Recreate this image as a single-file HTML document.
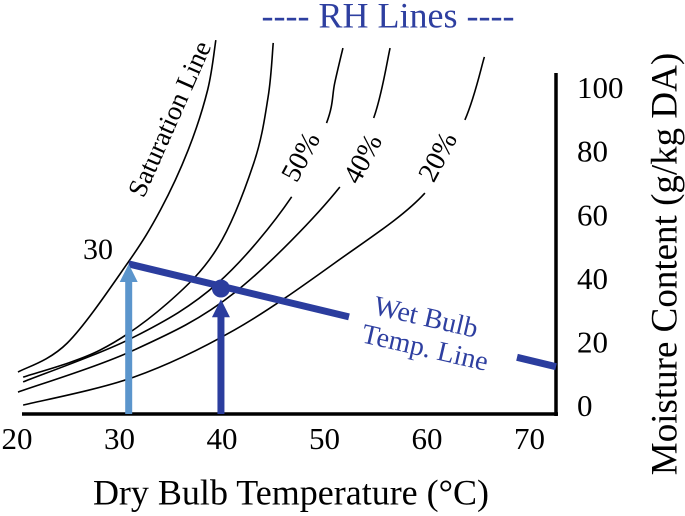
<!DOCTYPE html>
<html><head><meta charset="utf-8"><style>
html,body{margin:0;padding:0;background:#fff;}
svg{display:block;font-family:"Liberation Serif",serif;}
</style></head><body>
<svg id="chart" width="685" height="516" viewBox="0 0 685 516">
<g id="curves"></g>
<g id="axes"></g>
<g id="marks"></g>
</svg>
<script>
const xTicks=[20,30,40,50,60,70];
const yTicks=[0,20,40,60,80,100];
const satT=[20,24.8,30.7,33.9,36.6,38.5,39.3];
const satM=[11.3,20.4,45.6,62.3,81.1,100,115.7];
const rh70T=[20.5,28.0,34.6,39.5,43.0,44.4,44.9];
const rh70M=[9.7,18.2,33.0,50.6,77.0,97.8,114.8];
const rh50T=[20.5,31.3,39.5,46.7,50.1,50.9,51.7];
const rh50M=[8.2,22.3,39.3,66.4,89.6,102.2,113.2];
const rh40T=[20,31.3,41.1,51.4,54.7,56.3];
const rh40M=[5.0,18.2,36.2,69.5,91.2,113.2];
const rh20T=[20.5,31.3,41.1,50.9,59.7,63.6,65.5];
const rh20M=[0.9,9.7,24.5,45.6,67.6,90.6,110.4];
const wetT=[30.8,73];
const wetM=[45.3,12.6];
const satPointT=[30.8];
const dryPointT=[39.8];
const dryPointM=[38.2];

const NS="http://www.w3.org/2000/svg";
function X(t){return 18+(t-20)*10.25;}
function Y(m){return 408-m*3.18;}
function el(tag,attrs,parent,text){const e=document.createElementNS(NS,tag);for(const k in attrs)e.setAttribute(k,attrs[k]);if(text!==undefined)e.textContent=text;parent.appendChild(e);return e;}
function spline(ts,ms,gap){const p=ts.map((t,i)=>[X(t),Y(ms[i])]);let d="";for(let i=0;i<p.length-1;i++){if(i===gap)continue;const p0=p[Math.max(0,i-1)],p1=p[i],p2=p[i+1],p3=p[Math.min(p.length-1,i+2)];const c1=[p1[0]+(p2[0]-p0[0])/6,p1[1]+(p2[1]-p0[1])/6];const c2=[p2[0]-(p3[0]-p1[0])/6,p2[1]-(p3[1]-p1[1])/6];d+=" M"+p1+" C"+c1+" "+c2+" "+p2;}return d;}
const curves=document.getElementById('curves');
const axes=document.getElementById('axes');
const marks=document.getElementById('marks');
const series=[[satT,satM,'saturation-line',-1],[rh70T,rh70M,'rh-curve-70',-1],[rh50T,rh50M,'rh-curve-50',3],[rh40T,rh40M,'rh-curve-40',3],[rh20T,rh20M,'rh-curve-20',4]];
series.forEach(s=>{const p=el('path',{d:spline(s[0],s[1],s[3]),fill:'none',stroke:'#000','stroke-width':1.6},curves);

});
function label(x,y,rot,txt,name,size){const t=el('text',{x:x,y:y,transform:`rotate(${rot} ${x} ${y})`,'text-anchor':'middle','dominant-baseline':'middle','font-size':size,fill:'#000'},curves,txt);

}
label(172,120,-66,'Saturation Line','saturation-label',27);
label(303,158,-62,'50%','label-50',28);
label(365,160,-62,'40%','label-40',28);
label(440,158,-62,'20%','label-20',28);
// axes
const xa=el('line',{x1:22,y1:414,x2:558,y2:414,stroke:'#000','stroke-width':3.5},axes);


const ya=el('line',{x1:556,y1:73,x2:556,y2:416,stroke:'#000','stroke-width':3.5},axes);


xTicks.forEach(v=>{const t=el('text',{x:X(v)-1,y:442,'text-anchor':'middle','dominant-baseline':'middle','font-size':31},axes,String(v));

});
yTicks.forEach(v=>{const t=el('text',{x:577,y:Y(v)+1,'dominant-baseline':'middle','font-size':31},axes,String(v));

});
const xt=el('text',{x:291,y:496,'text-anchor':'middle','dominant-baseline':'middle','font-size':36},axes,'Dry Bulb Temperature (°C)');


const yt=el('text',{x:668,y:264,'text-anchor':'middle','dominant-baseline':'middle','font-size':37,transform:'rotate(-90 668 264)'},axes,'Moisture Content (g/kg DA)');


const tt=el('text',{x:388,y:19,'text-anchor':'middle','dominant-baseline':'middle','font-size':36,fill:'#2e3fa0'},axes,'---- RH Lines ----');


const l30=el('text',{x:98,y:252,'text-anchor':'middle','dominant-baseline':'middle','font-size':30},axes,'30');


// wet bulb line with gap
const x0=X(wetT[0]),y0=Y(wetM[0]),x1=X(wetT[1]),y1=Y(wetM[1]);
function at(x){return y0+(y1-y0)*(x-x0)/(x1-x0);}
const wb1=el('line',{x1:x0,y1:y0,x2:349,y2:at(349),stroke:'#2b3d9e','stroke-width':7},marks);


const wb2=el('line',{x1:517,y1:at(517),x2:Math.min(x1,556),y2:at(Math.min(x1,556)),stroke:'#2b3d9e','stroke-width':7},marks);


const wbt=el('text',{x:428,y:335,transform:'rotate(13 428 335)','text-anchor':'middle','font-size':28,fill:'#2e3fa0'},marks);


el('tspan',{x:422,dy:-8},wbt,'Wet Bulb');
el('tspan',{x:428,dy:30},wbt,'Temp. Line');
// arrows
function arrow(t,mTop,color,name){const x=X(t),yt=Y(mTop);const g=el('g',{},marks);


el('line',{x1:x,y1:414,x2:x,y2:yt+16,stroke:color,'stroke-width':7},g);
el('polygon',{points:`${x-9},${yt+18} ${x+9},${yt+18} ${x},${yt}`,fill:color},g);}
arrow(satPointT[0],wetM[0],'#5b95cc','saturation-arrow');
const dot=el('circle',{cx:X(dryPointT[0]),cy:Y(dryPointM[0])+2,r:9,fill:'#2b3d9e'},marks);


arrow(dryPointT[0],dryPointM[0]-4,'#2b3d9e','dry-bulb-arrow');
</script>
</body></html>
